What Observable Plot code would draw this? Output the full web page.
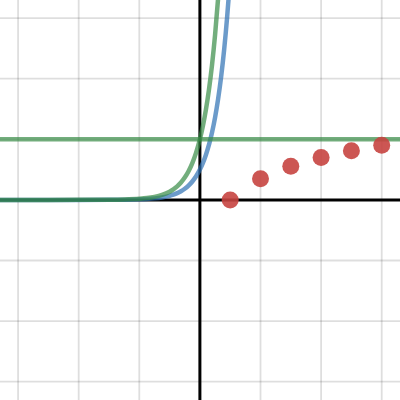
<!DOCTYPE html>
<html>
<head>
<meta charset="utf-8">
<script src="https://cdn.jsdelivr.net/npm/d3@7"></script>
<script src="https://cdn.jsdelivr.net/npm/@observablehq/plot@0.6"></script>
<style>
  html, body { margin: 0; padding: 0; background: #fff; }
  #chart svg { display: block; }
</style>
</head>
<body>
<div id="chart"></div>
<script>
// Grid ticks (every 2 units)
const gridTicks = [-6, -4, -2, 2, 4, 6];

// Blue curve samples
const blueX = [-6.6, -5, -4, -3, -2.5, -2, -1.75, -1.5, -1.25, -1, -0.875, -0.75, -0.625, -0.5, -0.375, -0.25, -0.125, 0, 0.1, 0.2, 0.3, 0.4, 0.5, 0.6, 0.7, 0.8, 0.9, 0.95];
const blueY = [0, 0.00005, 0.0003, 0.0025, 0.0067, 0.018, 0.030, 0.050, 0.082, 0.135, 0.174, 0.223, 0.287, 0.368, 0.472, 0.607, 0.779, 1, 1.221, 1.492, 1.822, 2.226, 2.718, 3.320, 4.055, 4.953, 6.050, 6.686];

// Green curve samples
const greenX = [-6.6, -5, -4, -3, -2.5, -2, -1.75, -1.5, -1.25, -1, -0.875, -0.75, -0.625, -0.5, -0.375, -0.25, -0.125, 0, 0.1, 0.2, 0.3, 0.4, 0.5, 0.6, 0.65];
const greenY = [0, 0.0001, 0.0007, 0.005, 0.0135, 0.037, 0.060, 0.100, 0.164, 0.271, 0.348, 0.446, 0.573, 0.736, 0.945, 1.213, 1.558, 2, 2.443, 2.984, 3.644, 4.451, 5.437, 6.640, 7.34];

// Horizontal green line level
const hLine = [2];

// Red points
const pointX = [1, 2, 3, 4, 5, 6];
const pointY = [0, 0.70, 1.11, 1.40, 1.62, 1.80];

const blue = blueX.map((x, i) => ({x, y: blueY[i]}));
const green = greenX.map((x, i) => ({x, y: greenY[i]}));
const pts = pointX.map((x, i) => ({x, y: pointY[i]}));

const chart = Plot.plot({
  width: 400,
  height: 400,
  margin: 0,
  style: {background: "#fff"},
  x: {domain: [-6.58, 6.62], axis: null},
  y: {domain: [-6.62, 6.58], axis: null},
  marks: [
    Plot.ruleX(gridTicks, {stroke: "#000", strokeOpacity: 0.13, strokeWidth: 1.8}),
    Plot.ruleY(gridTicks, {stroke: "#000", strokeOpacity: 0.13, strokeWidth: 1.8}),
    Plot.ruleX([0], {stroke: "#000", strokeWidth: 3}),
    Plot.ruleY([0], {stroke: "#000", strokeWidth: 3}),
    Plot.line(blue, {x: "x", y: "y", stroke: "#2d70b3", strokeOpacity: 0.7, strokeWidth: 4.5, curve: "monotone-x", clip: true}),
    Plot.line(green, {x: "x", y: "y", stroke: "#388c46", strokeOpacity: 0.7, strokeWidth: 4.5, curve: "monotone-x", clip: true}),
    Plot.ruleY(hLine, {stroke: "#388c46", strokeOpacity: 0.7, strokeWidth: 4.5}),
    Plot.dot(pts, {x: "x", y: "y", r: 8.5, fill: "#c74440", fillOpacity: 0.9, stroke: "none"})
  ]
});
document.getElementById("chart").appendChild(chart);
</script>
</body>
</html>
